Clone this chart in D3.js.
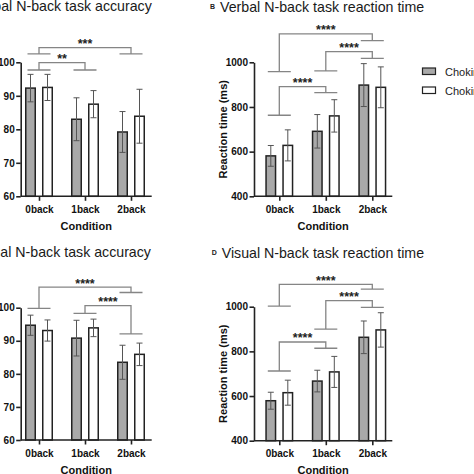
<!DOCTYPE html>
<html>
<head>
<meta charset="utf-8">
<style>
  body { margin: 0; background: #fff; }
  text { font-family: "Liberation Sans", Arial, sans-serif; }
  .tick text { font-size: 10px; font-weight: bold; fill: #111; }
  .axis path, .axis line { stroke: #222; stroke-width: 1.6; }
</style>
</head>
<body>
<div id="chart"></div>
<script src="https://d3js.org/d3.v7.min.js"></script>
<script>
const conditions = ['0back', '1back', '2back'];
const groupNames = ['Choking', 'Choking'];

// A: verbal accuracy (%)
const verbalAccGray = [92.3, 83.0, 79.2];
const verbalAccGraySd = [4.1, 6.4, 6.1];
const verbalAccWhite = [92.5, 87.5, 83.9];
const verbalAccWhiteSd = [3.9, 4.05, 8.05];

// B: verbal reaction time (ms)
const verbalRtGray = [581, 691, 898];
const verbalRtGraySd = [46.5, 75, 96];
const verbalRtWhite = [628, 760, 888];
const verbalRtWhiteSd = [69.5, 72.5, 91.5];

// C: visual accuracy (%)
const visualAccGray = [94.7, 90.8, 83.5];
const visualAccGraySd = [3.05, 5.4, 5.15];
const visualAccWhite = [93.1, 93.9, 85.9];
const visualAccWhiteSd = [3.2, 2.65, 3.4];

// D: visual reaction time (ms)
const visualRtGray = [579, 667, 863];
const visualRtGraySd = [38, 48.5, 73];
const visualRtWhite = [615, 708, 896];
const visualRtWhiteSd = [56, 69.5, 77];

const accTicks = [60, 70, 80, 90, 100];
const rtTicks = [400, 600, 800, 1000];

// significance brackets: [from, to, top, fromLeg, toLeg, label]
const verbalAccSig = [[0, 2, 104.4, 102.5, 102.5, '***'], [0, 1, 99.9, 97.7, 97.7, '**']];
const verbalRtSig = [[0, 2, 1127, 958, 1097, '****'], [1, 2, 1048, 962, 1018, '****'], [0, 1, 891, 763, 864, '****']];
const visualAccSig = [[0, 2, 106.2, 99.8, 104.6, '****'], [1, 2, 100.6, 98.3, 92.1, '****']];
const visualRtSig = [[0, 2, 1100, 1003, 1079, '****'], [1, 2, 1027, 900, 997, '****'], [0, 1, 842, 712, 814, '****']];

const svg = d3.select('#chart').append('svg')
  .attr('width', 474)
  .attr('height', 474);

const panels = [
  { letter: 'A', title: 'Verbal N-back task accuracy', ylabel: null,
    gray: verbalAccGray, graySd: verbalAccGraySd, white: verbalAccWhite, whiteSd: verbalAccWhiteSd,
    sig: verbalAccSig, domain: [60, 100], ticks: accTicks,
    axisX: 20.7, axisEnd: 151.7, c0: 39, c2: 131, y0: 196.3, y1: 62.3, titleX: -28, titleY: 11 },
  { letter: 'B', title: 'Verbal N-back task reaction time', ylabel: 'Reaction time (ms)',
    gray: verbalRtGray, graySd: verbalRtGraySd, white: verbalRtWhite, whiteSd: verbalRtWhiteSd,
    sig: verbalRtSig, domain: [400, 1000], ticks: rtTicks,
    axisX: 254, axisEnd: 392.3, c0: 279.3, c2: 372.3, y0: 196.3, y1: 62.3, titleX: 220, titleY: 12 },
  { letter: 'C', title: 'Visual N-back task accuracy', ylabel: null,
    gray: visualAccGray, graySd: visualAccGraySd, white: visualAccWhite, whiteSd: visualAccWhiteSd,
    sig: visualAccSig, domain: [60, 100], ticks: accTicks,
    axisX: 20.7, axisEnd: 151.7, c0: 39, c2: 131, y0: 440, y1: 307.7, titleX: -27, titleY: 257 },
  { letter: 'D', title: 'Visual N-back task reaction time', ylabel: 'Reaction time (ms)',
    gray: visualRtGray, graySd: visualRtGraySd, white: visualRtWhite, whiteSd: visualRtWhiteSd,
    sig: visualRtSig, domain: [400, 1000], ticks: rtTicks,
    axisX: 254, axisEnd: 392.3, c0: 279.3, c2: 372.3, y0: 440.7, y1: 306.7, titleX: 221.7, titleY: 258 }
];

const barW = 9.5, offset = 8.5, capW = 6, groupHalf = 11.5;

for (let p of panels) {
  let g = svg.append('g');

  let x = d3.scalePoint().domain(conditions).range([p.c0, p.c2]);
  let y = d3.scaleLinear().domain(p.domain).range([p.y0, p.y1]);

  // title
  g.append('text')
    .attr('x', p.titleX - 10)
    .attr('y', p.titleY - 3.5)
    .attr('font-size', 7)
    .attr('font-weight', 'bold')
    .attr('fill', '#222')
    .text(p.letter);
  g.append('text')
    .attr('x', p.titleX)
    .attr('y', p.titleY)
    .attr('font-size', 14.2)
    .attr('fill', '#1a1a1a')
    .text(p.title);

  // brackets
  for (let s of p.sig) {
    let xa = x(conditions[s[0]]), xb = x(conditions[s[1]]);
    g.append('path')
      .attr('d', `M${xa},${y(s[3])}V${y(s[2])}H${xb}V${y(s[4])}`
        + `M${xa - groupHalf},${y(s[3])}H${xa + groupHalf}`
        + `M${xb - groupHalf},${y(s[4])}H${xb + groupHalf}`)
      .attr('fill', 'none')
      .attr('stroke', '#858585')
      .attr('stroke-width', 1.3);
    g.append('text')
      .attr('x', (xa + xb) / 2)
      .attr('y', y(s[2]) + 0.5)
      .attr('text-anchor', 'middle')
      .attr('font-size', 12.5)
      .attr('font-weight', 'bold')
      .attr('fill', '#222')
      .text(s[5]);
  }

  // bars
  let series = [
    { vals: p.gray, sd: p.graySd, fill: '#a9a9a9', dx: -offset },
    { vals: p.white, sd: p.whiteSd, fill: '#fff', dx: offset }
  ];
  for (let sr of series) {
    g.selectAll(null)
      .data(conditions)
      .enter().append('rect')
      .attr('x', d => x(d) + sr.dx - barW / 2)
      .attr('y', (d, i) => y(sr.vals[i]))
      .attr('width', barW)
      .attr('height', (d, i) => y(p.domain[0]) - y(sr.vals[i]))
      .attr('fill', sr.fill)
      .attr('stroke', '#222')
      .attr('stroke-width', 1.5);

    // error bars
    g.selectAll(null)
      .data(conditions)
      .enter().append('path')
      .attr('d', (d, i) => {
        let cx = x(d) + sr.dx;
        let lo = y(sr.vals[i] - sr.sd[i]), hi = y(sr.vals[i] + sr.sd[i]);
        return `M${cx},${lo}V${hi}M${cx - capW / 2},${hi}H${cx + capW / 2}M${cx - capW / 2},${lo}H${cx + capW / 2}`;
      })
      .attr('fill', 'none')
      .attr('stroke', '#555')
      .attr('stroke-width', 1);
  }

  // y axis
  g.append('g')
    .attr('class', 'axis')
    .attr('transform', `translate(${p.axisX},0)`)
    .call(d3.axisLeft(y).tickValues(p.ticks).tickSize(4.5).tickSizeOuter(0).tickPadding(1.5).tickFormat(d3.format('d')));

  // x axis
  let xa = g.append('g')
    .attr('class', 'axis')
    .attr('transform', `translate(0,${p.y0})`)
    .call(d3.axisBottom(x).tickSize(4.5).tickSizeOuter(0).tickPadding(5));
  xa.select('.domain').remove();
  xa.append('line')
    .attr('x1', p.axisX).attr('x2', p.axisEnd)
    .attr('stroke', '#222').attr('stroke-width', 1.6);

  g.append('text')
    .attr('x', (p.axisX + p.axisEnd) / 2)
    .attr('y', p.y0 + 33.5)
    .attr('text-anchor', 'middle')
    .attr('font-size', 11)
    .attr('font-weight', 'bold')
    .attr('fill', '#111')
    .text('Condition');

  if (p.ylabel) {
    g.append('text')
      .attr('transform', `translate(${p.axisX - 31},${(p.y0 + p.y1) / 2}) rotate(-90)`)
      .attr('text-anchor', 'middle')
      .attr('dy', '0.35em')
      .attr('font-size', 11)
      .attr('font-weight', 'bold')
      .attr('fill', '#111')
      .text(p.ylabel);
  }
}

// legend
const legendFills = ['#a9a9a9', '#fff'];
const legend = svg.append('g');
legend.selectAll('rect')
  .data(groupNames)
  .enter().append('rect')
  .attr('x', 422.5)
  .attr('y', (d, i) => 68 + i * 19)
  .attr('width', 13)
  .attr('height', 6.5)
  .attr('fill', (d, i) => legendFills[i])
  .attr('stroke', '#222')
  .attr('stroke-width', 1.2);
legend.selectAll('text')
  .data(groupNames)
  .enter().append('text')
  .attr('x', 445)
  .attr('y', (d, i) => 76 + i * 19)
  .attr('font-size', 11)
  .attr('fill', '#222')
  .text(d => d);
</script>
</body>
</html>
